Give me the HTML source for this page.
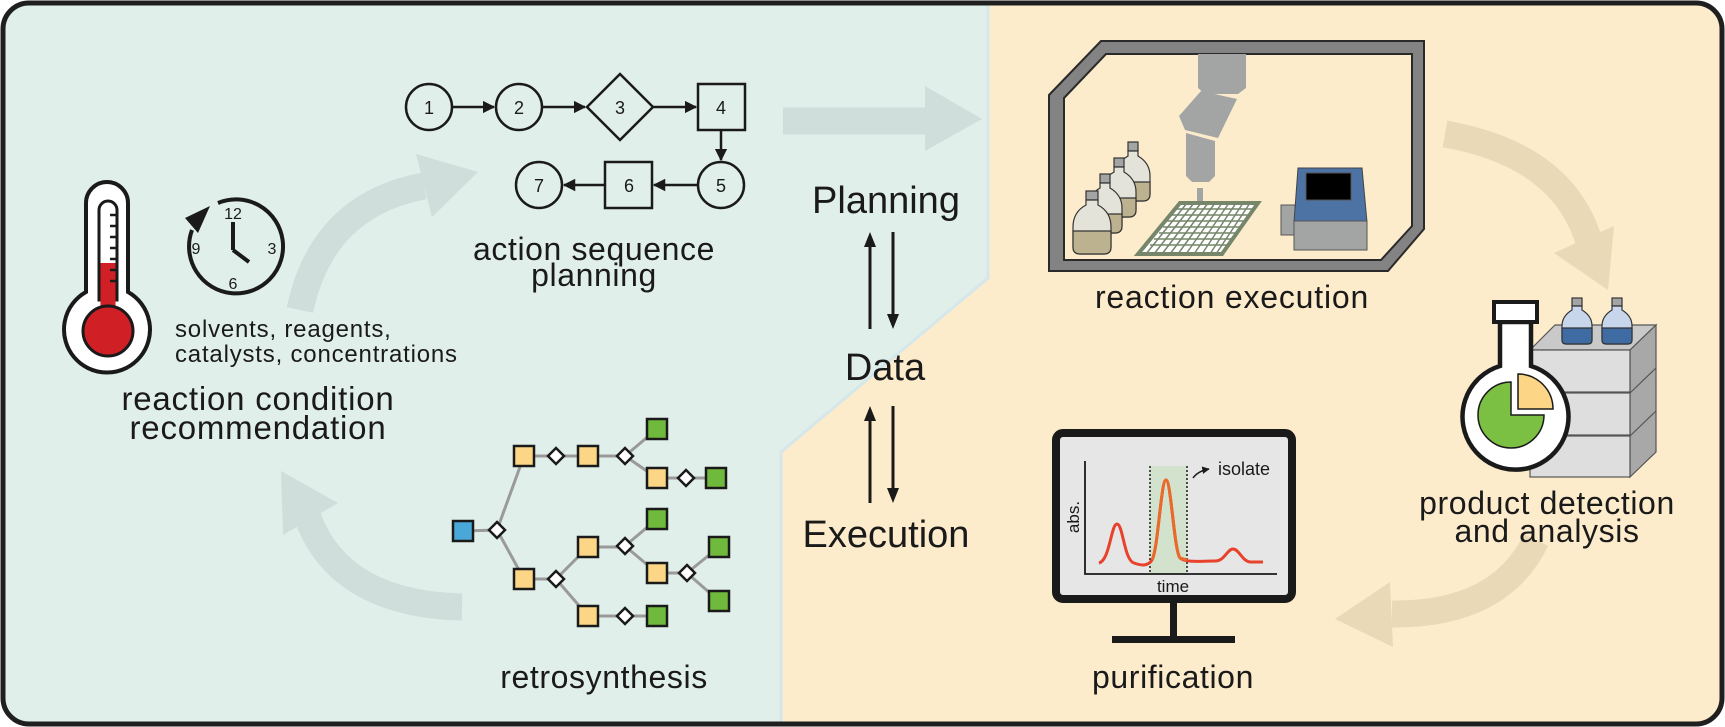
<!DOCTYPE html>
<html><head><meta charset="utf-8"><style>
html,body{margin:0;padding:0;background:#fff;}
svg{display:block;}
text{font-family:"Liberation Sans",sans-serif;fill:#1a1a1a;}
</style></head><body>
<svg width="1725" height="727" viewBox="0 0 1725 727" xmlns="http://www.w3.org/2000/svg">
<defs>
<clipPath id="c"><rect x="3" y="3" width="1719" height="721" rx="26"/></clipPath>
<marker id="ah" viewBox="0 0 10 10" refX="9" refY="5" markerWidth="5" markerHeight="5" orient="auto"><path d="M0,0L10,5L0,10z" fill="#1a1a1a"/></marker>
</defs>
<g clip-path="url(#c)">
<rect x="0" y="0" width="1725" height="727" fill="#fdeccb"/>
<polygon points="0,0 988,0 988,278 781,452 781,727 0,727" fill="#e1efea" stroke="#d5e7ea" stroke-width="3"/>
</g>
<rect x="3" y="3" width="1719" height="721" rx="26" fill="none" stroke="#1f1f1f" stroke-width="5"/>

<g fill="none" stroke="#cfdedb" stroke-width="27">
<path d="M300,310 Q322,205 424,186"/>
<path d="M462,607 Q340,604 308,518"/>
<path d="M783,121 L930,121"/>
</g>
<g fill="#cfdedb">
<polygon points="416,154 478,172 432,217"/>
<polygon points="283,535 281,471 338,503"/>
<polygon points="925,86 982,119 925,151"/>
</g>
<g fill="none" stroke="#e9d9b6" stroke-width="27">
<path d="M1445,134 Q1565,155 1590,245"/>
<path d="M1536,540 Q1500,615 1392,614"/>
</g>
<g fill="#e9d9b6">
<polygon points="1554,253 1608,290 1614,226"/>
<polygon points="1390,582 1335,619 1393,647"/>
</g>

<g fill="none" stroke="#1a1a1a" stroke-width="2.5">
<circle cx="429" cy="107" r="23"/>
<circle cx="519" cy="107" r="23"/>
<polygon points="620,74 653,107 620,140 587,107"/>
<rect x="698" y="84" width="47" height="46"/>
<circle cx="721" cy="185" r="23"/>
<rect x="605" y="162" width="47" height="46"/>
<circle cx="539" cy="185" r="23"/>
<line x1="452" y1="107" x2="494" y2="107" marker-end="url(#ah)"/>
<line x1="542" y1="107" x2="585" y2="107" marker-end="url(#ah)"/>
<line x1="653" y1="107" x2="696" y2="107" marker-end="url(#ah)"/>
<line x1="721" y1="130" x2="721" y2="160" marker-end="url(#ah)"/>
<line x1="698" y1="185" x2="654" y2="185" marker-end="url(#ah)"/>
<line x1="605" y1="185" x2="564" y2="185" marker-end="url(#ah)"/>
</g>
<g font-size="18" text-anchor="middle">
<text x="429" y="114">1</text><text x="519" y="114">2</text><text x="620" y="114">3</text><text x="721" y="114">4</text>
<text x="721" y="192">5</text><text x="629" y="192">6</text><text x="539" y="192">7</text>
</g>
<g font-size="32" text-anchor="middle" letter-spacing="0.6">
<text x="594" y="260">action sequence</text>
<text x="594" y="286">planning</text>
</g>

<path d="M86,292 L86,203 A21,21 0 0 1 128,203 L128,292 A43,43 0 1 1 86,292 Z" fill="#fff" stroke="#1a1a1a" stroke-width="4"/>
<path d="M99,300 L99,210 A9,9 0 0 1 117,210 L117,300 Z" fill="#fff" stroke="#1a1a1a" stroke-width="3"/>
<rect x="100.5" y="263" width="15" height="50" fill="#d11f26"/>
<circle cx="108" cy="331" r="25" fill="#d11f26" stroke="#1a1a1a" stroke-width="3"/>
<g stroke="#1a1a1a" stroke-width="2.5">
<line x1="110" y1="215" x2="117" y2="215"/><line x1="110" y1="226" x2="117" y2="226"/><line x1="110" y1="237" x2="117" y2="237"/><line x1="110" y1="248" x2="117" y2="248"/><line x1="110" y1="259" x2="117" y2="259"/><line x1="110" y1="270" x2="117" y2="270"/><line x1="110" y1="281" x2="117" y2="281"/>
</g>

<path d="M218,203 A47,47 0 1 1 192,230" fill="none" stroke="#1a1a1a" stroke-width="4"/>
<polygon points="210,206 185,218 198,233" fill="#1a1a1a"/>
<line x1="233" y1="222" x2="233" y2="250" stroke="#1a1a1a" stroke-width="4"/>
<line x1="233" y1="250" x2="249" y2="262" stroke="#1a1a1a" stroke-width="4"/>
<g font-size="16" text-anchor="middle">
<text x="233" y="219">12</text><text x="272" y="254">3</text><text x="233" y="289">6</text><text x="196" y="254">9</text>
</g>
<g font-size="24" letter-spacing="0.8">
<text x="175" y="337">solvents, reagents,</text>
<text x="175" y="362">catalysts, concentrations</text>
</g>
<g font-size="33" text-anchor="middle" letter-spacing="0.8">
<text x="258" y="410">reaction condition</text>
<text x="258" y="439">recommendation</text>
</g>

<g stroke="#9a9a9a" stroke-width="3" fill="none">
<polyline points="463,531 497,530 524,456 625,456"/>
<line x1="625" y1="456" x2="657" y2="429"/><line x1="625" y1="456" x2="657" y2="478"/><line x1="657" y1="478" x2="716" y2="478"/>
<polyline points="497,530 524,579 556,579 588,547 625,547"/>
<line x1="556" y1="579" x2="588" y2="616"/><line x1="588" y1="616" x2="657" y2="616"/>
<line x1="625" y1="546" x2="657" y2="519"/><line x1="625" y1="546" x2="657" y2="573"/><line x1="657" y1="573" x2="687" y2="573"/>
<line x1="687" y1="573" x2="719" y2="547"/><line x1="687" y1="573" x2="719" y2="601"/>
</g>
<g stroke="#1a1a1a" stroke-width="2.5">
<rect x="453" y="521" width="20" height="20" fill="#4aa8d8"/>
<g fill="#fcd686">
<rect x="514" y="446" width="20" height="20"/><rect x="578" y="446" width="20" height="20"/><rect x="647" y="468" width="20" height="20"/>
<rect x="514" y="569" width="20" height="20"/><rect x="578" y="537" width="20" height="20"/><rect x="647" y="563" width="20" height="20"/><rect x="578" y="606" width="20" height="20"/>
</g>
<g fill="#6fba3c">
<rect x="647" y="419" width="20" height="20"/><rect x="706" y="468" width="20" height="20"/><rect x="647" y="509" width="20" height="20"/>
<rect x="709" y="537" width="20" height="20"/><rect x="709" y="591" width="20" height="20"/><rect x="647" y="606" width="20" height="20"/>
</g>
<g fill="#fff">
<polygon points="497,522 505,530 497,538 489,530"/><polygon points="556,448 564,456 556,464 548,456"/><polygon points="625,448 633,456 625,464 617,456"/>
<polygon points="686,470 694,478 686,486 678,478"/><polygon points="556,571 564,579 556,587 548,579"/><polygon points="625,538 633,546 625,554 617,546"/>
<polygon points="687,565 695,573 687,581 679,573"/><polygon points="625,608 633,616 625,624 617,616"/>
</g>
</g>
<text x="604" y="688" font-size="32" text-anchor="middle" letter-spacing="0.6">retrosynthesis</text>

<g font-size="38" text-anchor="middle">
<text x="886" y="213">Planning</text>
<text x="885" y="380">Data</text>
<text x="886" y="547">Execution</text>
</g>
<g stroke="#1a1a1a" stroke-width="3">
<line x1="870" y1="329" x2="870" y2="240"/><line x1="893" y1="232" x2="893" y2="321"/>
<line x1="870" y1="503" x2="870" y2="414"/><line x1="893" y1="406" x2="893" y2="495"/>
</g>
<g fill="#1a1a1a">
<polygon points="870,232 864,247 876,247"/><polygon points="893,329 887,314 899,314"/>
<polygon points="870,406 864,421 876,421"/><polygon points="893,503 887,488 899,488"/>
</g>

<path fill-rule="evenodd" d="M1049,95 L1101,41 L1424,41 L1424,229 L1388,271 L1049,271 Z M1064,98 L1106,54 L1412,54 L1412,226 L1381,260 L1064,260 Z" fill="#838383" stroke="#2a2a2a" stroke-width="2"/>
<g fill="#a3a5a5">
<polygon points="1198,54 1246,54 1246,88 1238,94 1205,94 1198,88"/>
<polygon points="1201,91 1237,99 1218,138 1185,130 1179,116"/>
<polygon points="1186,133 1215,141 1215,176 1209,182 1192,182 1186,176"/>
<rect x="1197" y="188" width="6" height="28"/>
</g>
<polygon points="1180,203 1258,203 1222,254 1138,254" fill="#fff" stroke="#75866a" stroke-width="4"/>
<g stroke="#75866a" stroke-width="1.5">
<line x1="1176" y1="209" x2="1254" y2="209"/><line x1="1172" y1="215" x2="1250" y2="215"/><line x1="1167" y1="221" x2="1245" y2="221"/><line x1="1163" y1="227" x2="1241" y2="227"/><line x1="1159" y1="233" x2="1237" y2="233"/><line x1="1154" y1="239" x2="1232" y2="239"/><line x1="1150" y1="245" x2="1228" y2="245"/>
<line x1="1187" y1="203" x2="1146" y2="254"/><line x1="1194" y1="203" x2="1154" y2="254"/><line x1="1201" y1="203" x2="1162" y2="254"/><line x1="1208" y1="203" x2="1170" y2="254"/><line x1="1215" y1="203" x2="1178" y2="254"/><line x1="1222" y1="203" x2="1186" y2="254"/><line x1="1229" y1="203" x2="1194" y2="254"/><line x1="1236" y1="203" x2="1202" y2="254"/><line x1="1243" y1="203" x2="1210" y2="254"/><line x1="1250" y1="203" x2="1216" y2="254"/>
</g>
<g stroke="#333" stroke-width="1.2">
<g transform="translate(1133,146)"><rect x="-5" y="-4" width="10" height="9" fill="#a3a5a5"/><path d="M-5,5 L-5,10 Q-17,17 -17,30 L-17,48 Q-17,55 -10,55 L10,55 Q17,55 17,48 L17,30 Q17,17 5,10 L5,5Z" fill="#e4e3da"/><path d="M-17,36 L17,36 L17,48 Q17,55 10,55 L-10,55 Q-17,55 -17,48Z" fill="#bdb28f"/></g>
<g transform="translate(1119,162)"><rect x="-5" y="-4" width="10" height="9" fill="#a3a5a5"/><path d="M-5,5 L-5,10 Q-17,17 -17,30 L-17,48 Q-17,55 -10,55 L10,55 Q17,55 17,48 L17,30 Q17,17 5,10 L5,5Z" fill="#e4e3da"/><path d="M-17,36 L17,36 L17,48 Q17,55 10,55 L-10,55 Q-17,55 -17,48Z" fill="#bdb28f"/></g>
<g transform="translate(1105,178)"><rect x="-5" y="-4" width="10" height="9" fill="#a3a5a5"/><path d="M-5,5 L-5,10 Q-17,17 -17,30 L-17,48 Q-17,55 -10,55 L10,55 Q17,55 17,48 L17,30 Q17,17 5,10 L5,5Z" fill="#e4e3da"/><path d="M-17,36 L17,36 L17,48 Q17,55 10,55 L-10,55 Q-17,55 -17,48Z" fill="#bdb28f"/></g>
<g transform="translate(1092,195)"><rect x="-6" y="-4" width="12" height="9" fill="#a3a5a5"/><path d="M-6,5 L-6,10 Q-19,17 -19,32 L-19,52 Q-19,59 -12,59 L12,59 Q19,59 19,52 L19,32 Q19,17 6,10 L6,5Z" fill="#e4e3da"/><path d="M-19,36 L19,36 L19,52 Q19,59 12,59 L-12,59 Q-19,59 -19,52Z" fill="#bdb28f"/></g>
</g>
<rect x="1281" y="205" width="14" height="30" fill="#a3a5a5" stroke="#555" stroke-width="1"/>
<polygon points="1298,168 1362,168 1367,222 1294,222" fill="#4d72a4" stroke="#444" stroke-width="1"/>
<rect x="1294" y="221" width="73" height="29" fill="#a3a5a5" stroke="#555" stroke-width="1"/>
<rect x="1306" y="173" width="45" height="27" fill="#000" stroke="#555" stroke-width="1"/>
<text x="1232" y="308" font-size="32" text-anchor="middle" letter-spacing="0.8">reaction execution</text>

<g stroke="#555" stroke-width="1.2">
<polygon points="1530,350 1555,325 1656,325 1630,350" fill="#c9c9c9"/>
<polygon points="1630,350 1656,325 1656,452 1630,477" fill="#a8a8a8"/>
<rect x="1530" y="350" width="100" height="42" fill="#dedede"/>
<rect x="1530" y="393" width="100" height="42" fill="#dedede"/>
<rect x="1530" y="436" width="100" height="41" fill="#dedede"/>
<line x1="1630" y1="393" x2="1656" y2="368"/><line x1="1630" y1="436" x2="1656" y2="411"/>
</g>
<g stroke="#333" stroke-width="1.2">
<g transform="translate(1577,298)"><rect x="-5" y="0" width="10" height="8" fill="#a3a5a5"/><path d="M-5,8 L-5,12 Q-15,18 -15,28 L-15,42 Q-15,46 -11,46 L11,46 Q15,46 15,42 L15,28 Q15,18 5,12 L5,8Z" fill="#c7d6ea"/><path d="M-15,30 L15,30 L15,42 Q15,46 11,46 L-11,46 Q-15,46 -15,42Z" fill="#3f6ba3"/></g>
<g transform="translate(1617,298)"><rect x="-5" y="0" width="10" height="8" fill="#a3a5a5"/><path d="M-5,8 L-5,12 Q-15,18 -15,28 L-15,42 Q-15,46 -11,46 L11,46 Q15,46 15,42 L15,28 Q15,18 5,12 L5,8Z" fill="#c7d6ea"/><path d="M-15,30 L15,30 L15,42 Q15,46 11,46 L-11,46 Q-15,46 -15,42Z" fill="#3f6ba3"/></g>
</g>
<path d="M1500,322 L1500,366 A53,53 0 1 0 1531,366 L1531,322 Z" fill="#fff" stroke="#1a1a1a" stroke-width="4.5"/>
<rect x="1494" y="302" width="43" height="20" fill="#fff" stroke="#1a1a1a" stroke-width="4"/>
<path d="M1511,415 L1511,382 A33,33 0 1 0 1544,415 Z" fill="#7bc043" stroke="#1a1a1a" stroke-width="1.5"/>
<path d="M1518,409 L1518,374 A35,35 0 0 1 1553,409 Z" fill="#fcd686" stroke="#1a1a1a" stroke-width="1.5"/>
<g font-size="32" text-anchor="middle" letter-spacing="0.6">
<text x="1547" y="514">product detection</text>
<text x="1547" y="542">and analysis</text>
</g>

<rect x="1056" y="433" width="236" height="166" rx="7" fill="#e6e6e6" stroke="#1a1a1a" stroke-width="8"/>
<rect x="1170" y="603" width="7" height="35" fill="#1a1a1a"/>
<rect x="1112" y="636" width="123" height="7" fill="#1a1a1a"/>
<rect x="1150" y="466" width="37" height="108" fill="#d3e2cc"/>
<g stroke="#1a1a1a" stroke-width="1.5" stroke-dasharray="2,2">
<line x1="1150" y1="466" x2="1150" y2="574"/><line x1="1187" y1="466" x2="1187" y2="574"/>
</g>
<polyline points="1085,461 1085,574 1277,574" fill="none" stroke="#1a1a1a" stroke-width="1.8"/>
<path d="M1099,563 C1110,560 1111,524 1117,524 C1123,524 1124,560 1134,563 C1142,566 1148,566 1152,560 C1158,550 1161,480 1166,480 C1171,480 1174,550 1180,558 C1186,563 1200,561 1215,561 C1225,561 1227,549 1233,549 C1239,549 1242,561 1250,562 L1263,562" fill="none" stroke="#e8412c" stroke-width="3"/>
<path d="M1152,560 C1158,550 1161,480 1166,480 C1171,480 1174,550 1180,558 L1187,560" fill="none" stroke="#ea6a2a" stroke-width="3"/>
<path d="M1193,478 Q1198,471 1209,469" fill="none" stroke="#1a1a1a" stroke-width="1.5" marker-end="url(#ah)"/>
<text x="1218" y="475" font-size="18">isolate</text>
<text x="1173" y="592" font-size="17" text-anchor="middle">time</text>
<text transform="translate(1079,517) rotate(-90)" font-size="17" text-anchor="middle">abs.</text>
<text x="1173" y="688" font-size="32" text-anchor="middle" letter-spacing="0.6">purification</text>
</svg>
</body></html>
